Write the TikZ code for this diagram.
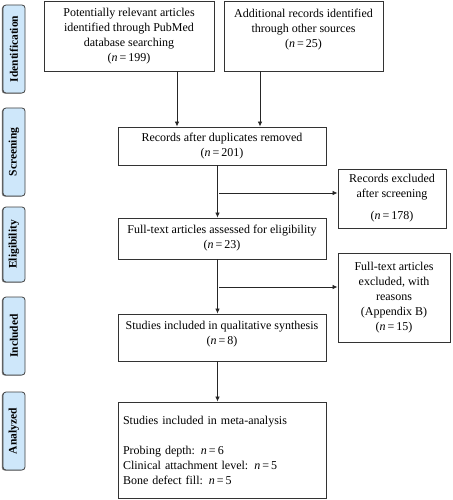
\documentclass[tikz,border=0pt]{standalone}
\usepackage{fontspec}
\setmainfont{Liberation Serif}
\usetikzlibrary{arrows.meta,shadows}
\definecolor{phasefill}{RGB}{206,231,250}
\newcommand{\nval}[1]{(\textit{n}\,=\,#1)}
\begin{document}
\begin{tikzpicture}[x=1pt,y=-1pt,
	box/.style={draw=black!80,line width=0.9pt,align=center,inner sep=2pt,
		font=\fontsize{12}{15}\selectfont},
	phase/.style={draw=black!75,line width=0.8pt,fill=phasefill,rounded corners=3pt,
		rotate=90,minimum height=22pt,inner sep=1pt,font=\fontsize{11.5}{12}\selectfont\bfseries,
		drop shadow={shadow xshift=-1.2pt,shadow yshift=-0.6pt,fill=black!55,opacity=1}},
	arr/.style={-{Latex[length=5pt,width=4.5pt]},line width=0.8pt,black!85}]
	\useasboundingbox (0,0) rectangle (452,500);
	\foreach \lab/\yc/\len in {Identification/49/88,Screening/152/88,Eligibility/244.5/75,Included/336/78,Analyzed/431/78}
	{
		\node at (14,\yc) [phase,minimum width=\len pt] (ph-\lab) {\lab};
	}
	\node at (129,36) [box,minimum width=170pt,minimum height=70pt] (pubmed)
		{Potentially relevant articles\\identified through PubMed\\database searching\\\nval{199}};
	\node at (303.5,36) [box,minimum width=159pt,minimum height=70pt] (other)
		{Additional records identified\\through other sources\\\nval{25}\\\mbox{}};
	\node at (222,146) [box,minimum width=208pt,minimum height=38pt] (dupl)
		{Records after duplicates removed\\\nval{201}};
	\node at (392,198.5) [box,minimum width=108pt,minimum height=59pt] (excl)
		{Records excluded\\after screening\\[7pt]\nval{178}};
	\node at (222,238.5) [box,minimum width=208pt,minimum height=41pt] (full)
		{Full-text articles assessed for eligibility\\\nval{23}};
	\node at (394,297.5) [box,minimum width=112pt,minimum height=89pt] (fexcl)
		{Full-text articles\\excluded, with\\reasons\\(Appendix B)\\\nval{15}};
	\node at (222,337.5) [box,minimum width=208pt,minimum height=47pt] (qual)
		{Studies included in qualitative synthesis\\\nval{8}\\[-6pt]\mbox{}};
	\node at (222,450) [box,minimum width=208pt,minimum height=96pt,text width=198pt,align=left] (meta)
		{Studies included in meta-analysis\\[15pt]Probing depth: \textit{n}\,=\,6\\Clinical attachment level: \textit{n}\,=\,5\\Bone defect fill: \textit{n}\,=\,5};
	\draw [arr] ([xshift=48pt]pubmed.south) -- ([xshift=48pt]pubmed.south |- dupl.north);
	\draw [arr] ([xshift=-43.5pt]other.south) -- ([xshift=-43.5pt]other.south |- dupl.north);
	\draw [arr] ([xshift=-4.5pt]dupl.south) -- ([xshift=-4.5pt]full.north);
	\draw [arr] ([xshift=-4.5pt]full.south) -- ([xshift=-4.5pt]qual.north);
	\draw [arr] ([xshift=-4.5pt]qual.south) -- ([xshift=-4.5pt]meta.north);
	\coordinate (br1) at (219,193);
	\coordinate (br2) at (219,287);
	\draw [arr] (br1) -- (br1 -| excl.west);
	\draw [arr] (br2) -- (br2 -| fexcl.west);
\end{tikzpicture}
\end{document}
